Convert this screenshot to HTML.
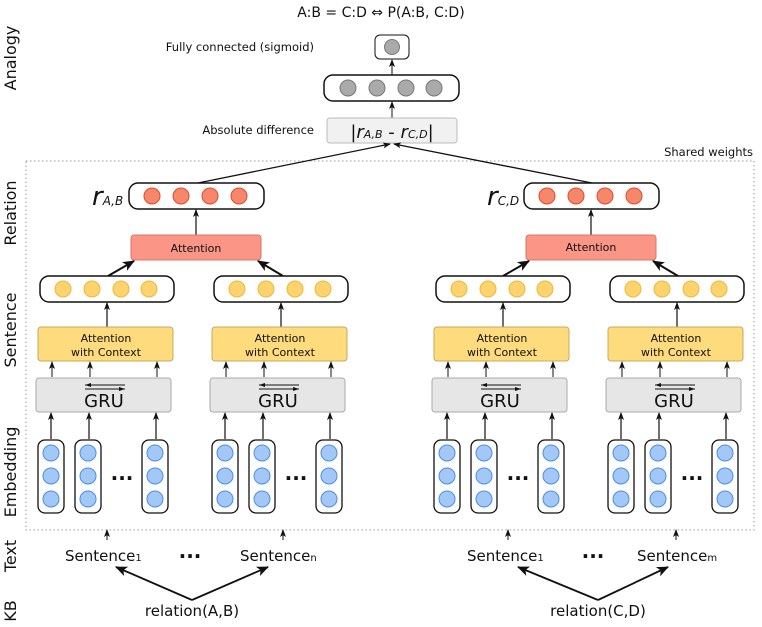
<!DOCTYPE html>
<html><head><meta charset="utf-8"><style>
html,body{margin:0;padding:0;background:#fff;}
svg{display:block;font-family:"DejaVu Sans","Liberation Sans",sans-serif;}
</style></head><body>
<svg width="762" height="627" viewBox="0 0 762 627" xmlns="http://www.w3.org/2000/svg">
<defs>
<marker id="a" markerWidth="8" markerHeight="8" refX="7" refY="4" orient="auto" markerUnits="userSpaceOnUse"><path d="M0,1 L8,4 L0,7 L2,4z" fill="#111"/></marker>
<marker id="b" markerWidth="12" markerHeight="12" refX="11" refY="6" orient="auto" markerUnits="userSpaceOnUse"><path d="M0,1 L12,6 L0,11 L3,6z" fill="#111"/></marker>
<g id="col">
<rect x="0" y="440" width="26" height="73" rx="7" fill="#fff" stroke="#111" stroke-width="1.3"/>
<circle cx="13" cy="453" r="8" fill="#a3c8f7" stroke="#4a8fe0"/>
<circle cx="13" cy="476" r="8" fill="#a3c8f7" stroke="#4a8fe0"/>
<circle cx="13" cy="499" r="8" fill="#a3c8f7" stroke="#4a8fe0"/>
</g>
<g id="br">
<rect x="4" y="276" width="134" height="26" rx="9" fill="#fff" stroke="#111" stroke-width="1.5"/>
<circle cx="27" cy="289" r="8" fill="#fdd36e" stroke="#efb73a"/>
<circle cx="56" cy="289" r="8" fill="#fdd36e" stroke="#efb73a"/>
<circle cx="85" cy="289" r="8" fill="#fdd36e" stroke="#efb73a"/>
<circle cx="113" cy="289" r="8" fill="#fdd36e" stroke="#efb73a"/>
<line x1="71" y1="327" x2="71" y2="303" stroke="#111" stroke-width="1.2" marker-end="url(#a)"/>
<rect x="2" y="327" width="135" height="34" rx="3" fill="#fedb7c" stroke="#c8a860"/>
<line x1="16" y1="377" x2="16" y2="362" stroke="#111" marker-end="url(#a)"/>
<line x1="54" y1="377" x2="54" y2="362" stroke="#111" marker-end="url(#a)"/>
<line x1="121" y1="377" x2="121" y2="362" stroke="#111" marker-end="url(#a)"/>
<rect x="0" y="378" width="135" height="34" rx="3" fill="#e6e6e6" stroke="#aaa"/>
<line x1="49" y1="385" x2="89" y2="385" stroke="#111"/><path d="M49,385 l6,-2 v4z" fill="#111"/>
<line x1="49" y1="389" x2="89" y2="389" stroke="#111"/><path d="M89,389 l-6,-2 v4z" fill="#111"/>
<line x1="15" y1="439" x2="15" y2="413" stroke="#111" stroke-width="1.2" marker-end="url(#a)"/>
<line x1="53" y1="439" x2="53" y2="413" stroke="#111" stroke-width="1.2" marker-end="url(#a)"/>
<line x1="120" y1="439" x2="120" y2="413" stroke="#111" stroke-width="1.2" marker-end="url(#a)"/>
<use href="#col" x="2"/><use href="#col" x="39"/><use href="#col" x="106"/>
</g>
</defs>

<text x="381" y="17" font-size="14" text-anchor="middle" fill="#111">A:B = C:D ⇔ P(A:B, C:D)</text>
<g font-size="16" fill="#111" text-anchor="middle">
<text transform="translate(16,58) rotate(-90)">Analogy</text>
<text transform="translate(16,213) rotate(-90)">Relation</text>
<text transform="translate(16,330) rotate(-90)">Sentence</text>
<text transform="translate(16,472) rotate(-90)">Embedding</text>
<text transform="translate(16,556) rotate(-90)">Text</text>
<text transform="translate(16,611) rotate(-90)">KB</text>
</g>

<rect x="26" y="161" width="728" height="369" fill="none" stroke="#999" stroke-dasharray="1.5,2.5"/>
<text x="753" y="156" font-size="11.5" text-anchor="end" fill="#111">Shared weights</text>

<text x="314" y="51" font-size="11.5" text-anchor="end" fill="#111">Fully connected (sigmoid)</text>
<rect x="375" y="35" width="34" height="24" rx="5" fill="#fff" stroke="#111"/>
<circle cx="392" cy="47" r="7.5" fill="#aaa" stroke="#777"/>
<line x1="392" y1="75" x2="392" y2="60" stroke="#111" marker-end="url(#a)"/>
<rect x="324" y="75" width="135" height="26" rx="9" fill="#fff" stroke="#111" stroke-width="1.5"/>
<circle cx="348" cy="88" r="8" fill="#aaa" stroke="#777"/><circle cx="377" cy="88" r="8" fill="#aaa" stroke="#777"/>
<circle cx="406" cy="88" r="8" fill="#aaa" stroke="#777"/><circle cx="434" cy="88" r="8" fill="#aaa" stroke="#777"/>
<line x1="392" y1="118" x2="392" y2="102" stroke="#111" marker-end="url(#a)"/>
<text x="314" y="134" font-size="11.5" text-anchor="end" fill="#111">Absolute difference</text>
<rect x="327" y="118" width="130" height="25" rx="3" fill="#f1f1f1" stroke="#bbb"/>
<text x="392" y="138" font-size="18" text-anchor="middle" fill="#111">|<tspan font-style="italic">r</tspan><tspan font-size="11" font-style="italic">A,B</tspan> - <tspan font-style="italic">r</tspan><tspan font-size="11" font-style="italic">C,D</tspan>|</text>
<line x1="198" y1="183" x2="390" y2="144" stroke="#111" stroke-width="1.3" marker-end="url(#a)"/>
<line x1="592" y1="183" x2="394" y2="144" stroke="#111" stroke-width="1.3" marker-end="url(#a)"/>

<text x="92" y="205" font-size="26" font-style="italic" fill="#111">r<tspan font-size="12">A,B</tspan></text>
<rect x="129" y="183" width="135" height="26" rx="9" fill="#fff" stroke="#111" stroke-width="1.5"/>
<circle cx="152" cy="196" r="8" fill="#f7876a" stroke="#e04a2c"/><circle cx="181" cy="196" r="8" fill="#f7876a" stroke="#e04a2c"/>
<circle cx="210" cy="196" r="8" fill="#f7876a" stroke="#e04a2c"/><circle cx="239" cy="196" r="8" fill="#f7876a" stroke="#e04a2c"/>
<line x1="196" y1="235" x2="196" y2="210" stroke="#111" stroke-width="1.2" marker-end="url(#a)"/>
<rect x="131" y="235" width="130" height="25" rx="3" fill="#fb9585" stroke="#d87868"/>
<text x="196" y="252" font-size="11" text-anchor="middle" fill="#111">Attention</text>
<line x1="108" y1="276" x2="134" y2="261" stroke="#111" stroke-width="2" marker-end="url(#b)"/>
<line x1="283" y1="276" x2="258" y2="261" stroke="#111" stroke-width="2" marker-end="url(#b)"/>

<text x="487" y="205" font-size="26" font-style="italic" fill="#111">r<tspan font-size="12">C,D</tspan></text>
<rect x="524" y="183" width="135" height="26" rx="9" fill="#fff" stroke="#111" stroke-width="1.5"/>
<circle cx="547" cy="196" r="8" fill="#f7876a" stroke="#e04a2c"/><circle cx="576" cy="196" r="8" fill="#f7876a" stroke="#e04a2c"/>
<circle cx="605" cy="196" r="8" fill="#f7876a" stroke="#e04a2c"/><circle cx="634" cy="196" r="8" fill="#f7876a" stroke="#e04a2c"/>
<line x1="591" y1="235" x2="591" y2="210" stroke="#111" stroke-width="1.2" marker-end="url(#a)"/>
<rect x="526" y="235" width="130" height="25" rx="3" fill="#fb9585" stroke="#d87868"/>
<text x="591" y="251" font-size="11" text-anchor="middle" fill="#111">Attention</text>
<line x1="503" y1="276" x2="529" y2="261" stroke="#111" stroke-width="2" marker-end="url(#b)"/>
<line x1="678" y1="276" x2="653" y2="261" stroke="#111" stroke-width="2" marker-end="url(#b)"/>

<use href="#br" x="36"/><use href="#br" x="210"/><use href="#br" x="432"/><use href="#br" x="606"/>
<g font-size="11" text-anchor="middle" fill="#111">
<text x="106" y="342">Attention</text><text x="106" y="356">with Context</text>
<text x="280" y="342">Attention</text><text x="280" y="356">with Context</text>
<text x="502" y="342">Attention</text><text x="502" y="356">with Context</text>
<text x="676" y="342">Attention</text><text x="676" y="356">with Context</text>
</g>
<g font-size="18" text-anchor="middle" fill="#111">
<text x="104" y="407">GRU</text><text x="278" y="407">GRU</text><text x="500" y="407">GRU</text><text x="674" y="407">GRU</text>
</g>
<g font-size="20" font-weight="bold" text-anchor="middle" fill="#111">
<text x="122" y="485">···</text><text x="296" y="485">···</text><text x="518" y="485">···</text><text x="692" y="485">···</text>
</g>

<g stroke="#111" fill="none">
<line x1="107" y1="540" x2="107" y2="530" marker-end="url(#a)"/>
<line x1="283" y1="540" x2="283" y2="530" marker-end="url(#a)"/>
<line x1="508" y1="540" x2="508" y2="530" marker-end="url(#a)"/>
<line x1="676" y1="540" x2="676" y2="530" marker-end="url(#a)"/>
<line x1="192" y1="600" x2="116" y2="567" stroke-width="1.8" marker-end="url(#b)"/>
<line x1="192" y1="600" x2="268" y2="567" stroke-width="1.8" marker-end="url(#b)"/>
<line x1="598" y1="600" x2="518" y2="567" stroke-width="1.8" marker-end="url(#b)"/>
<line x1="598" y1="600" x2="668" y2="567" stroke-width="1.8" marker-end="url(#b)"/>
</g>
<g font-size="15" fill="#111">
<text x="65" y="561">Sentence<tspan font-size="10">1</tspan></text>
<text x="240" y="561">Sentence<tspan font-size="10">n</tspan></text>
<text x="467" y="561">Sentence<tspan font-size="10">1</tspan></text>
<text x="637" y="561">Sentence<tspan font-size="10">m</tspan></text>
<text x="192" y="616" text-anchor="middle">relation(A,B)</text>
<text x="598" y="616" text-anchor="middle">relation(C,D)</text>
</g>
<g font-size="20" font-weight="bold" text-anchor="middle" fill="#111">
<text x="190" y="563">···</text><text x="593" y="563">···</text>
</g>
</svg>
</body></html>
